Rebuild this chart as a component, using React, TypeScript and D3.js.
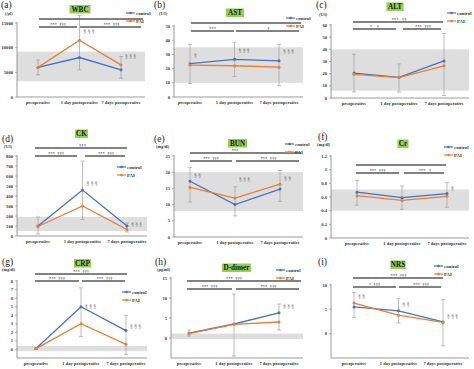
import * as d3 from "d3";

const CATS = ["preoperative", "1 day postoperative", "7 days postoperative"];
const SERIES = ["control", "PAI"];

// WBC
const wbcControl = [6000, 8000, 5500];
const wbcPai = [6000, 11500, 6500];
const wbcLow = [4500, 5500, 3800];
const wbcHigh = [7500, 16500, 8200];
const wbcTicks = [0, 5000, 10000, 15000];
const wbcSig = ["", "***  †††", "***  †††"];
const wbcSect: [number, number, string][] = [[1, 13000, "§ § §"], [2, 8000, "§ § §"]];

// AST
const astControl = [23.5, 26.5, 25.5];
const astPai = [22.5, 22, 21];
const astLow = [9.5, 14.5, 8];
const astHigh = [37, 38.5, 37];
const astTicks = [0, 10, 20, 30, 40, 50];
const astSig = ["", "***", "†"];
const astSect: [number, number, string][] = [[0, 28, "§"], [1, 32, "§ § §"], [2, 31, "§ § §"]];

// ALT
const altControl = [20.5, 17, 30.5];
const altPai = [19.5, 16.8, 26.5];
const altLow = [5, 5, 2];
const altHigh = [36, 28, 53];
const altTicks = [0, 10, 20, 30, 40, 50, 60];
const altSig = ["***   ††", "*    †", "***  †††"];
const altSect: [number, number, string][] = [];

// CK
const ckControl = [100, 460, 100];
const ckPai = [95, 300, 65];
const ckLow = [20, 165, 40];
const ckHigh = [190, 750, 130];
const ckTicks = [0, 100, 200, 300, 400, 500, 600, 700, 800];
const ckSig = ["†††", "***  †††", "***  †††"];
const ckSect: [number, number, string][] = [[1, 510, "§ § §"], [2, 100, "§ § §"]];

// BUN
const bunControl = [17.2, 10, 14.8];
const bunPai = [15.3, 12, 16.3];
const bunLow = [10.8, 6.5, 11];
const bunHigh = [21.5, 15.5, 20.5];
const bunTicks = [0, 5, 10, 15, 20, 25];
const bunSig = ["***", "***  †††", "***  †††"];
const bunSect: [number, number, string][] = [[0, 18.5, "§ §"], [1, 17.3, "§ § §"], [2, 17.6, "§ §"]];

// Cr
const crControl = [0.67, 0.59, 0.65];
const crPai = [0.62, 0.55, 0.61];
const crLow = [0.48, 0.42, 0.45];
const crHigh = [0.84, 0.76, 0.81];
const crTicks = [0, 0.2, 0.4, 0.6, 0.8, 1, 1.2];
const crSig = ["", "***  †††", "***   †"];
const crSect: [number, number, string][] = [[2, 0.7, "§"]];

// CRP
const crpControl = [0.1, 5, 2.2];
const crpPai = [0.1, 3, 0.6];
const crpLow = [0, 1.5, -0.6];
const crpHigh = [0.2, 7.2, 4];
const crpTicks = [0, 1, 2, 3, 4, 5, 6, 7, 8];
const crpSig = ["***  †††", "***  †††", "***  †††"];
const crpSect: [number, number, string][] = [[1, 4.9, "§ § §"], [2, 2.5, "§ § §"]];

// D-dimer
const ddControl = [1.2, 3.5, 6.3];
const ddPai = [1.1, 3.4, 4];
const ddLow = [0.5, -4.5, 2];
const ddHigh = [2, 11, 8.5];
const ddTicks = [0, 5, 10, 15];
const ddSig = ["***  †††", "***  †††", "***  †††"];
const ddSect: [number, number, string][] = [[2, 7.5, "§ § §"]];

// NRS
const nrsControl = [5.5, 4.7, 2.4];
const nrsPai = [6.3, 3.8, 2.3];
const nrsLow = [3.3, 2.2, -2.5];
const nrsHigh = [8.5, 7.2, 7];
const nrsTicks = [0, 5, 10];
const nrsSig = ["***  †††", "*  †††", "***  †††"];
const nrsSect: [number, number, string][] = [[0, 7.3, "§ §"], [1, 5.7, "§ §"], [2, 3.3, "§ § §"]];

const BLUE = "#4472c4";
const ORANGE = "#ed7d31";
const FONT = "'Liberation Serif', 'DejaVu Serif', serif";

interface Layout {
  tag: string; title: string; unit: string;
  ax: number; right: number; yTop: number; yBot: number; domain: [number, number];
  c0: number; c2: number; band: [number, number] | null;
  sigTop: number; sigLow: number; s0: number; s1: number; lEnd: number; rStart: number;
  legX: number; legY: number; tagX: number; tagY: number; unitX: number; unitY: number;
  titleX: number; titleY: number; titleW: number;
}

const panels = [
  { control: wbcControl, pai: wbcPai, low: wbcLow, high: wbcHigh, ticks: wbcTicks, sig: wbcSig, sect: wbcSect,
    l: { tag: "(a)", title: "WBC", unit: "(/µl)", ax: 17, right: 145, yTop: 23, yBot: 97, domain: [0, 15000],
      c0: 38, c2: 121, band: [3200, 9200], sigTop: 19, sigLow: 27, s0: 39, s1: 143, lEnd: 77, rStart: 80,
      legX: 126, legY: 13, tagX: 1, tagY: 8, unitX: 5, unitY: 15, titleX: 80, titleY: 9.5, titleW: 21 } },
  { control: astControl, pai: astPai, low: astLow, high: astHigh, ticks: astTicks, sig: astSig, sect: astSect,
    l: { tag: "(b)", title: "AST", unit: "(U/l)", ax: 174, right: 303, yTop: 26, yBot: 97, domain: [0, 50],
      c0: 190, c2: 279, band: [10, 35], sigTop: 23, sigLow: 31, s0: 191, s1: 301, lEnd: 234, rStart: 236,
      legX: 286, legY: 18, tagX: 154, tagY: 8, unitX: 159, unitY: 15, titleX: 235, titleY: 13, titleW: 18 } },
  { control: altControl, pai: altPai, low: altLow, high: altHigh, ticks: altTicks, sig: altSig, sect: altSect,
    l: { tag: "(c)", title: "ALT", unit: "(U/l)", ax: 331, right: 469, yTop: 25, yBot: 98, domain: [0, 60],
      c0: 354, c2: 444, band: [6, 40], sigTop: 22, sigLow: 29, s0: 353, s1: 443, lEnd: 396, rStart: 403,
      legX: 447, legY: 13, tagX: 316, tagY: 8, unitX: 319, unitY: 16, titleX: 395, titleY: 7, titleW: 17 } },
  { control: ckControl, pai: ckPai, low: ckLow, high: ckHigh, ticks: ckTicks, sig: ckSig, sect: ckSect,
    l: { tag: "(d)", title: "CK", unit: "(U/l)", ax: 17, right: 147, yTop: 156, yBot: 236, domain: [0, 800],
      c0: 38, c2: 127, band: [50, 190], sigTop: 148, sigLow: 156, s0: 35, s1: 127, lEnd: 77, rStart: 85,
      legX: 117, legY: 167, tagX: 2, tagY: 142, unitX: 4, unitY: 148, titleX: 81.5, titleY: 134, titleW: 13 } },
  { control: bunControl, pai: bunPai, low: bunLow, high: bunHigh, ticks: bunTicks, sig: bunSig, sect: bunSect,
    l: { tag: "(e)", title: "BUN", unit: "(mg/dl)", ax: 174, right: 303, yTop: 156, yBot: 237, domain: [0, 25],
      c0: 190, c2: 280, band: [8, 20], sigTop: 153, sigLow: 161, s0: 190, s1: 301, lEnd: 232, rStart: 236,
      legX: 285, legY: 144, tagX: 154, tagY: 142, unitX: 156, unitY: 148, titleX: 237.5, titleY: 143.5, titleW: 19 } },
  { control: crControl, pai: crPai, low: crLow, high: crHigh, ticks: crTicks, sig: crSig, sect: crSect,
    l: { tag: "(f)", title: "Cr", unit: "(mg/dl)", ax: 331, right: 469, yTop: 156, yBot: 238, domain: [0, 1.2],
      c0: 357, c2: 447, band: [0.4, 0.71], sigTop: 165, sigLow: 173, s0: 356, s1: 446, lEnd: 399, rStart: 404,
      legX: 444, legY: 147, tagX: 318, tagY: 140, unitX: 317, unitY: 146, titleX: 403, titleY: 144, titleW: 11 } },
  { control: crpControl, pai: crpPai, low: crpLow, high: crpHigh, ticks: crpTicks, sig: crpSig, sect: crpSect,
    l: { tag: "(g)", title: "CRP", unit: "(mg/dl)", ax: 17, right: 147, yTop: 281, yBot: 358, domain: [-1, 8],
      c0: 36, c2: 126, band: [-0.2, 0.4], sigTop: 274, sigLow: 281, s0: 35, s1: 127, lEnd: 79, rStart: 82,
      legX: 122, legY: 292, tagX: 2, tagY: 265, unitX: 2, unitY: 271, titleX: 82.5, titleY: 263.5, titleW: 17 } },
  { control: ddControl, pai: ddPai, low: ddLow, high: ddHigh, ticks: ddTicks, sig: ddSig, sect: ddSect,
    l: { tag: "(h)", title: "D-dimer", unit: "(µg/ml)", ax: 171, right: 303, yTop: 278, yBot: 358, domain: [-5, 15],
      c0: 189, c2: 279, band: [-0.3, 1.1], sigTop: 281, sigLow: 289, s0: 187, s1: 301, lEnd: 232, rStart: 236,
      legX: 276, legY: 270, tagX: 155, tagY: 265, unitX: 157, unitY: 271, titleX: 236.5, titleY: 268, titleW: 29 } },
  { control: nrsControl, pai: nrsPai, low: nrsLow, high: nrsHigh, ticks: nrsTicks, sig: nrsSig, sect: nrsSect,
    l: { tag: "(i)", title: "NRS", unit: "", ax: 331, right: 469, yTop: 285, yBot: 358, domain: [-5, 10],
      c0: 354, c2: 443, band: null, sigTop: 278, sigLow: 287, s0: 353, s1: 443, lEnd: 396, rStart: 399,
      legX: 434, legY: 266, tagX: 318, tagY: 265, unitX: 0, unitY: 0, titleX: 398, titleY: 265, titleW: 15 } },
];

type PanelData = (typeof panels)[number];

function Panel({ p }: { p: PanelData }) {
  const l = p.l as Layout;
  const y = d3.scaleLinear().domain(l.domain).range([l.yBot, l.yTop]);
  const x = d3.scalePoint<string>().domain(CATS).range([l.c0, l.c2]);
  const line = d3
    .line<number>()
    .x((_, i) => x(CATS[i])!)
    .y((d) => y(d));
  const c1 = x(CATS[1])!;
  const sigSegs = [
    { x0: l.s0, x1: l.s1, yy: l.sigTop, cx: c1, t: p.sig[0] },
    { x0: l.s0, x1: l.lEnd, yy: l.sigLow, cx: (l.s0 + l.lEnd) / 2, t: p.sig[1] },
    { x0: l.rStart, x1: l.s1 - 2, yy: l.sigLow, cx: (l.rStart + l.s1) / 2, t: p.sig[2] },
  ];
  return (
    <g fontFamily={FONT}>
      {l.band && (
        <rect x={l.ax} width={l.right - l.ax} y={y(l.band[1])} height={y(l.band[0]) - y(l.band[1])} fill="#dedede" />
      )}
      {/* axes */}
      <line x1={l.ax} x2={l.ax} y1={l.yTop - 1} y2={l.yBot} stroke="#808080" strokeWidth={0.8} />
      <line x1={l.ax} x2={l.right} y1={l.yBot} y2={l.yBot} stroke="#808080" strokeWidth={0.8} />
      {p.ticks.map((t) => (
        <g key={t}>
          <line x1={l.ax - 2} x2={l.ax} y1={y(t)} y2={y(t)} stroke="#808080" strokeWidth={0.6} />
          <text x={l.ax - 4} y={y(t) + 1.6} textAnchor="end" fontSize={4.6} fontWeight="bold" fill="#333">
            {t}
          </text>
        </g>
      ))}
      {CATS.map((c) => (
        <text key={c} x={x(c)} y={l.yBot + 7} textAnchor="middle" fontSize={4.5} fontWeight="bold" fill="#333">
          {c}
        </text>
      ))}
      {/* error bars */}
      {CATS.map((c, i) => (
        <g key={c} stroke="#a0a0a0" strokeWidth={0.7}>
          <line x1={x(c)} x2={x(c)} y1={y(p.low[i])} y2={y(p.high[i])} />
          <line x1={x(c)! - 2} x2={x(c)! + 2} y1={y(p.low[i])} y2={y(p.low[i])} />
          <line x1={x(c)! - 2} x2={x(c)! + 2} y1={y(p.high[i])} y2={y(p.high[i])} />
        </g>
      ))}
      {[p.control, p.pai].map((vals, si) => (
        <g key={si}>
          <path d={line(vals) ?? ""} fill="none" stroke={si ? ORANGE : BLUE} strokeWidth={1.3} />
          {vals.map((v, i) => (
            <circle key={i} cx={x(CATS[i])} cy={y(v)} r={1.5} fill={si ? ORANGE : BLUE} />
          ))}
        </g>
      ))}
      {p.sect.map(([ci, v, t], i) => (
        <text key={i} x={x(CATS[ci])! + 4} y={y(v)} fontSize={5.5} fill="#777">
          {t}
        </text>
      ))}
      {/* significance bars */}
      {sigSegs.map((s, i) => (
        <g key={i}>
          <line x1={s.x0} x2={s.x1} y1={s.yy} y2={s.yy} stroke="#595959" strokeWidth={1.3} />
          {s.t && (
            <text x={s.cx} y={s.yy - 1.5} textAnchor="middle" fontSize={4.6} fontWeight="bold" fill="#595959" style={{ whiteSpace: "pre" }}>
              {s.t}
            </text>
          )}
        </g>
      ))}
      {/* title */}
      <rect x={l.titleX - l.titleW / 2} y={l.titleY - 4.5} width={l.titleW} height={8.5} fill="#92d050" />
      <text x={l.titleX} y={l.titleY + 2.4} textAnchor="middle" fontSize={7.2} fontWeight="bold" fill="#1a1a1a">
        {l.title}
      </text>
      <text x={l.tagX} y={l.tagY} fontSize={9.5} fill="#222">
        {l.tag}
      </text>
      {l.unit && (
        <text x={l.unitX} y={l.unitY} fontSize={4.2} fontWeight="bold" fill="#333">
          {l.unit}
        </text>
      )}
      {/* legend */}
      {SERIES.map((s, i) => (
        <g key={s} transform={`translate(${l.legX},${l.legY + i * 8})`}>
          <line x1={0} x2={9} y1={0} y2={0} stroke={i ? ORANGE : BLUE} strokeWidth={1.2} />
          <circle cx={4.5} cy={0} r={1.3} fill={i ? ORANGE : BLUE} />
          <text x={10} y={1.6} fontSize={4.8} fontWeight="bold" fill="#333">
            {s}
          </text>
        </g>
      ))}
    </g>
  );
}

export default function App() {
  return (
    <svg width={474} height={369} style={{ position: "absolute", left: 0, top: 0, background: "#fff" }}>
      <rect width={474} height={369} fill="#fff" />
      {panels.map((p) => (
        <Panel key={p.l.tag} p={p} />
      ))}
    </svg>
  );
}
